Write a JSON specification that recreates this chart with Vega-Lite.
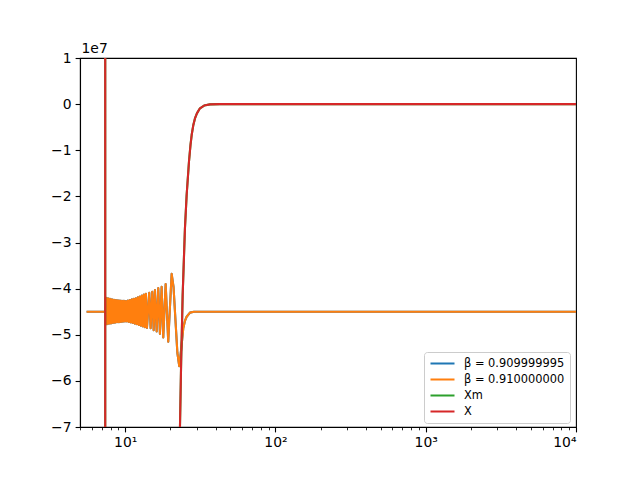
{
 "$schema": "https://vega.github.io/schema/vega-lite/v6.json",
 "width": 496,
 "height": 369,
 "autosize": {"type": "none"},
 "padding": {"left": 80, "top": 58, "right": 64, "bottom": 53},
 "background": "white",
 "config": {
  "view": {"stroke": "black", "strokeWidth": 1.1},
  "font": "DejaVu Sans",
  "axis": {"grid": false, "domainColor": "black", "domainWidth": 1.1, "tickColor": "black", "tickWidth": 1.1, "tickSize": 4.9, "labelColor": "black", "labelFontSize": 13.9, "labelPadding": 4, "labelFont": "DejaVu Sans"},
  "legend": {"symbolType": "stroke", "symbolSize": 576, "symbolStrokeWidth": 2.1, "clipHeight": 13, "labelFontSize": 11.4, "labelFont": "DejaVu Sans", "labelColor": "black", "labelOffset": 8, "rowPadding": 3, "padding": 5, "strokeColor": "#cccccc", "fillColor": "white", "cornerRadius": 3}
 },
 "datasets": {
  "beta": [
   {"x": 5.53, "y": -4.5e7}, {"x": 7.38, "y": -4.5e7},
   {"x": 7.439, "y": -4.2e7}, {"x": 7.554, "y": -4.77e7}, {"x": 7.671, "y": -4.21e7}, {"x": 7.789, "y": -4.762e7},
   {"x": 7.910, "y": -4.22e7}, {"x": 8.032, "y": -4.754e7}, {"x": 8.156, "y": -4.23e7}, {"x": 8.282, "y": -4.746e7},
   {"x": 8.410, "y": -4.24e7}, {"x": 8.540, "y": -4.738e7}, {"x": 8.672, "y": -4.25e7}, {"x": 8.806, "y": -4.73e7},
   {"x": 8.942, "y": -4.254e7}, {"x": 9.080, "y": -4.726e7}, {"x": 9.220, "y": -4.258e7}, {"x": 9.363, "y": -4.722e7},
   {"x": 9.507, "y": -4.262e7}, {"x": 9.654, "y": -4.718e7}, {"x": 9.803, "y": -4.266e7}, {"x": 9.955, "y": -4.714e7},
   {"x": 10.109, "y": -4.27e7}, {"x": 10.265, "y": -4.71e7}, {"x": 10.423, "y": -4.258e7}, {"x": 10.584, "y": -4.722e7},
   {"x": 10.748, "y": -4.246e7}, {"x": 10.914, "y": -4.734e7}, {"x": 11.082, "y": -4.234e7}, {"x": 11.253, "y": -4.746e7},
   {"x": 11.427, "y": -4.222e7}, {"x": 11.604, "y": -4.758e7}, {"x": 11.783, "y": -4.21e7}, {"x": 11.965, "y": -4.77e7},
   {"x": 12.150, "y": -4.19e7}, {"x": 12.338, "y": -4.787e7}, {"x": 12.528, "y": -4.17e7}, {"x": 12.722, "y": -4.803e7},
   {"x": 12.918, "y": -4.15e7}, {"x": 13.118, "y": -4.82e7}, {"x": 13.320, "y": -4.13e7}, {"x": 13.526, "y": -4.835e7},
   {"x": 13.735, "y": -4.11e7}, {"x": 13.947, "y": -4.85e7},
   {"x": 14.45, "y": -4.09e7}, {"x": 14.76, "y": -4.86e7}, {"x": 15.13, "y": -4.07e7}, {"x": 15.46, "y": -4.9e7},
   {"x": 15.77, "y": -4.03e7}, {"x": 16.19, "y": -4.93e7}, {"x": 16.59, "y": -3.99e7}, {"x": 17.02, "y": -4.98e7},
   {"x": 17.47, "y": -3.96e7}, {"x": 17.91, "y": -5.06e7}, {"x": 18.58, "y": -3.9e7}, {"x": 19.33, "y": -5.15e7},
   {"x": 19.84, "y": -4.41e7}, {"x": 20.37, "y": -3.68e7}, {"x": 20.97, "y": -3.97e7}, {"x": 21.59, "y": -4.68e7},
   {"x": 22.23, "y": -5.39e7}, {"x": 22.88, "y": -5.68e7}, {"x": 23.60, "y": -5.3e7}, {"x": 24.33, "y": -4.86e7},
   {"x": 24.97, "y": -4.7e7}, {"x": 25.63, "y": -4.61e7}, {"x": 26.97, "y": -4.52e7}, {"x": 28.67, "y": -4.5e7},
   {"x": 10000, "y": -4.5e7}
  ],
  "X": [
   {"x": 7.359, "y": 3e7}, {"x": 7.361, "y": -1.5e8}, {"x": 21.5, "y": -1.2e8}, {"x": 22.5, "y": -9e7},
   {"x": 23.13, "y": -7.02e7}, {"x": 23.56, "y": -5.585e7}, {"x": 24.11, "y": -4.14e7}, {"x": 24.97, "y": -2.69e7},
   {"x": 25.63, "y": -1.97e7}, {"x": 26.56, "y": -1.25e7}, {"x": 27.2, "y": -8.8e6}, {"x": 27.68, "y": -6.7e6},
   {"x": 28.4, "y": -4.5e6}, {"x": 29.11, "y": -3.1e6}, {"x": 30.0, "y": -2.0e6}, {"x": 31.43, "y": -9e5},
   {"x": 33.5, "y": -3e5}, {"x": 36.64, "y": -5e4}, {"x": 42.71, "y": 0}, {"x": 10000, "y": 0}
  ]
 },
 "layer": [
  {
   "data": {"name": "beta"},
   "mark": {"type": "line", "strokeWidth": 2.1, "clip": true, "strokeJoin": "round"},
   "encoding": {
    "x": {"field": "x", "type": "quantitative", "scale": {"type": "log", "domain": [5, 10000], "nice": false},
          "axis": {"values": [10, 100, 1000, 10000], "title": null, "orient": "bottom",
                   "labelExpr": "datum.value == 10 ? '10¹' : datum.value == 100 ? '10²' : datum.value == 1000 ? '10³' : '10⁴'"}},
    "y": {"field": "y", "type": "quantitative", "scale": {"domain": [-7e7, 1e7], "nice": false, "zero": false},
          "axis": {"values": [-7e7, -6e7, -5e7, -4e7, -3e7, -2e7, -1e7, 0, 1e7],
                   "labelExpr": "replace(format(datum.value / 1e7, 'd'), '-', '\u2212')",
                   "title": "1e7", "titleAngle": 0, "titleAlign": "left", "titleBaseline": "bottom",
                   "titleX": 1, "titleY": -3, "titleFontWeight": "normal", "titleFontSize": 13.9, "titleColor": "black", "titleFont": "DejaVu Sans"}},
    "color": {"datum": "β = 0.909999995", "type": "nominal",
              "scale": {"domain": ["β = 0.909999995", "β = 0.910000000", "Xm", "X"], "range": ["#1f77b4", "#ff7f0e", "#2ca02c", "#d62728"]},
              "legend": {"title": null, "orient": "none", "legendX": 344, "legendY": 294}}
   }
  },
  {
   "data": {"name": "beta"},
   "mark": {"type": "line", "strokeWidth": 2.1, "clip": true, "strokeJoin": "round"},
   "encoding": {
    "x": {"field": "x", "type": "quantitative",
          "axis": {"values": [5, 6, 7, 8, 9, 20, 30, 40, 50, 60, 70, 80, 90, 200, 300, 400, 500, 600, 700, 800, 900, 2000, 3000, 4000, 5000, 6000, 7000, 8000, 9000],
                   "labels": false, "domain": false, "tickSize": 2.8, "tickWidth": 0.83, "title": null, "orient": "bottom"}},
    "y": {"field": "y", "type": "quantitative"},
    "color": {"datum": "β = 0.910000000", "type": "nominal"}
   }
  },
  {
   "data": {"name": "X"},
   "mark": {"type": "line", "strokeWidth": 2.1, "clip": true, "strokeJoin": "round"},
   "encoding": {
    "x": {"field": "x", "type": "quantitative", "axis": null},
    "y": {"field": "y", "type": "quantitative"},
    "color": {"datum": "Xm", "type": "nominal"}
   }
  },
  {
   "data": {"name": "X"},
   "mark": {"type": "line", "strokeWidth": 2.1, "clip": true, "strokeJoin": "round"},
   "encoding": {
    "x": {"field": "x", "type": "quantitative", "axis": null},
    "y": {"field": "y", "type": "quantitative"},
    "color": {"datum": "X", "type": "nominal"}
   }
  }
 ],
 "resolve": {"axis": {"x": "independent"}}
}
